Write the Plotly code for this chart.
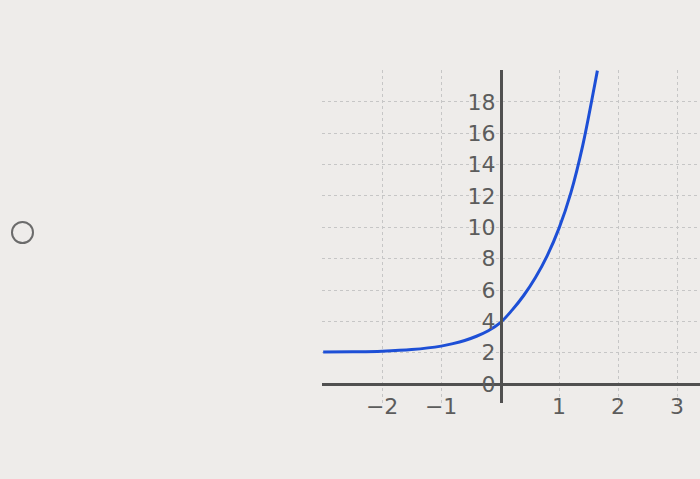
import plotly.graph_objects as go

# curve points
x_vals = [-3.0, -2.5, -2.0, -1.5, -1.0, -0.8, -0.6, -0.4, -0.2, 0.0,
          0.2, 0.4, 0.6, 0.8, 1.0, 1.2, 1.4, 1.6, 1.65]
y_vals = [2.04, 2.06, 2.1, 2.2, 2.42, 2.58, 2.78, 3.05, 3.4, 3.9,
          4.7, 5.65, 6.8, 8.2, 9.95, 12.2, 15.2, 19.0, 20.0]

x_ticks = [-2, -1, 1, 2, 3]
x_ticktext = ["\u22122", "\u22121", "1", "2", "3"]
y_ticks = [0, 2, 4, 6, 8, 10, 12, 14, 16, 18]

W, H = 700, 479
bg = "#eeecea"
axis_col = "#505050"
label_col = "#5c5c5c"
grid_col = "#c6c6c6"

fig = go.Figure()
fig.add_trace(go.Scatter(
    x=x_vals, y=y_vals, mode="lines", line_shape="spline",
    line=dict(color="#1d4fd6", width=3), showlegend=False, hoverinfo="skip",
))

fig.update_layout(
    width=W, height=H,
    margin=dict(l=0, r=0, t=0, b=0),
    paper_bgcolor=bg, plot_bgcolor=bg,
    font=dict(family="DejaVu Sans", size=22, color=label_col),
    xaxis=dict(
        domain=[322 / W, 1.0], range=[-3.02, 3.39],
        anchor="free", position=1 - 384 / H,
        tickvals=x_ticks, ticktext=x_ticktext,
        showline=True, linecolor=axis_col, linewidth=3,
        showgrid=True, gridcolor=grid_col, griddash="dot", gridwidth=1,
        zeroline=False, ticks="", ticklabelstandoff=2,
    ),
    yaxis=dict(
        domain=[1 - 403 / H, 1 - 70 / H], range=[-1.21, 20.04],
        anchor="free", position=501 / W,
        tickvals=y_ticks,
        showline=True, linecolor=axis_col, linewidth=3,
        showgrid=True, gridcolor=grid_col, griddash="dot", gridwidth=1,
        zeroline=False, ticks="", ticklabelstandoff=0,
    ),
    shapes=[dict(
        type="circle", xref="paper", yref="paper",
        x0=12 / W, x1=33 / W, y0=1 - 243 / H, y1=1 - 222 / H,
        line=dict(color="#6b6b6b", width=2),
    )],
)

fig.write_html("out.html", config={"displayModeBar": False},
               post_script="document.body.style.margin='0';")
